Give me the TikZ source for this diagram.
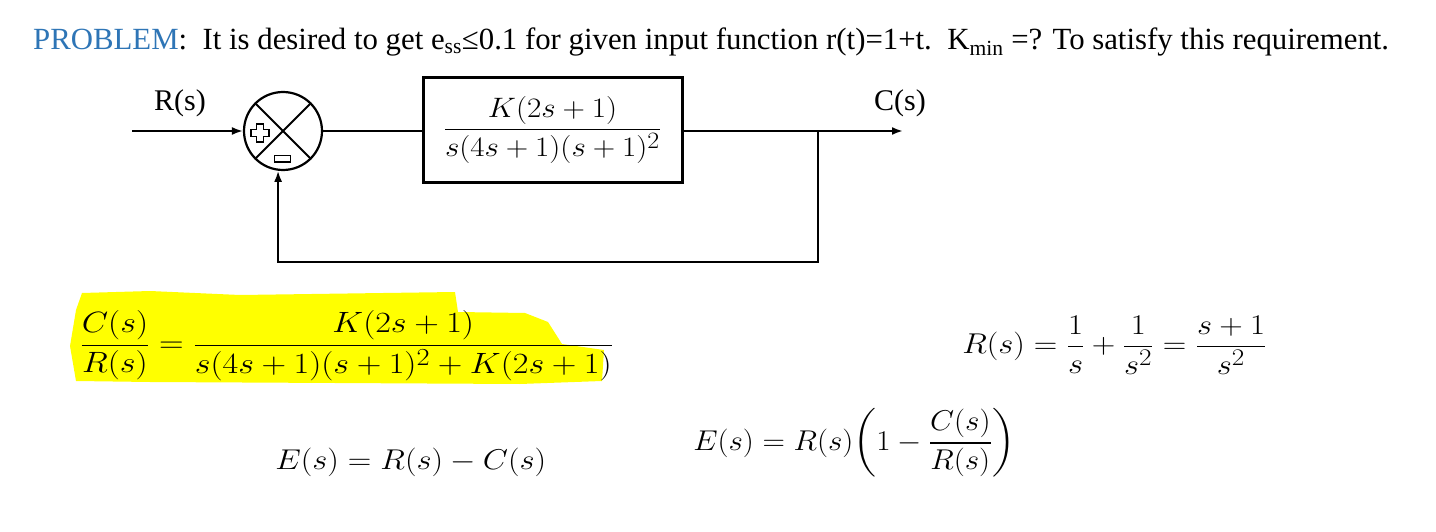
\documentclass[tikz,border=0pt]{standalone}
\usepackage{amsmath}
\usepackage{fontspec}
\setmainfont{Liberation Serif}
\usetikzlibrary{arrows.meta}
\definecolor{probblue}{RGB}{46,117,182}
\definecolor{hilite}{RGB}{255,255,0}
\begin{document}
\begin{tikzpicture}[x=1pt,y=-1pt,
  conn/.style={line width=2pt},
  arr/.style={line width=2pt,-{Latex[length=11pt,width=8pt]}},
  lbl/.style={font=\fontsize{30}{36}\selectfont, inner sep=0pt},
  eqn/.style={font=\fontsize{24.88}{30}\selectfont, inner sep=0pt, transform shape},
  blockbox/.style={draw, line width=3pt, minimum width=259pt, minimum height=105pt, inner sep=0pt}
]
\useasboundingbox (0,0) rectangle (1436,532);
% title
\node[font=\fontsize{30.8}{36}\selectfont, inner sep=0pt, anchor=base west] (title) at (33,50) {\textcolor{probblue}{PROBLEM}: \ It is desired to get e\textsubscript{ss}≤0.1 for given input function r(t)=1+t.\ \ K\textsubscript{min} =? To satisfy this requirement.};
% block diagram
\node[lbl] (rlab) at (180,103) {R(s)};
\node[lbl] (clab) at (900,103) {C(s)};
\coordinate (in) at (132,131);
\node[circle, draw, line width=2.2pt, minimum size=78pt, inner sep=0pt] (sum) at (283,131) {};
\draw[line width=2pt] (sum.45) -- (sum.225) (sum.135) -- (sum.315);
\draw[line width=1.5pt] (256.5,124) -- (263.5,124) -- (263.5,129.5) -- (269,129.5) -- (269,136.5) -- (263.5,136.5) -- (263.5,142) -- (256.5,142) -- (256.5,136.5) -- (251,136.5) -- (251,129.5) -- (256.5,129.5) -- cycle;
\draw[line width=1.5pt] (274.5,155.5) rectangle (290.5,162);
\node[blockbox] (G) at (552.5,130) {};
\node[eqn, xscale=1.25, yscale=1.13] (Gtf) at (G.center) {$\dfrac{K(2s+1)}{s(4s+1)(s+1)^2}$};
\coordinate (out) at (903,131);
\coordinate (br) at (818,131);
\coordinate (fb) at (818,262);
\draw[arr] (in) -- (sum.west);
\draw[conn] (sum.east) -- (G.west |- sum.east);
\draw[arr] (G.east |- out) -- (out);
\draw[arr] (br) -- (fb) -- (sum.263 |- fb) -- (sum.263);
% highlight
\fill[hilite] (82,293) -- (150,291) -- (240,295) -- (455,292) -- (458,312) -- (525,313) -- (548,322) -- (562,344) -- (604,350) -- (602,381) -- (520,384) -- (150,382) -- (76,381) -- (70,346) -- (76,310) -- cycle;
% equations
\node[eqn, xscale=1.37, yscale=1.18, anchor=west] (eq1) at (80,346) {$\dfrac{C(s)}{R(s)}=\dfrac{K(2s+1)}{s(4s+1)(s+1)^2+K(2s+1)}$};
\node[eqn, xscale=1.31, yscale=1.15, anchor=west] (eq2) at (962,345) {$R(s)=\dfrac{1}{s}+\dfrac{1}{s^2}=\dfrac{s+1}{s^2}$};
\node[eqn, xscale=1.31, yscale=1.15, anchor=west] (eq3) at (275,462) {$E(s)=R(s)-C(s)$};
\node[eqn, xscale=1.25, yscale=1.15, anchor=west] (eq4) at (693,443) {$E(s)=R(s)\biggl(1-\dfrac{C(s)}{R(s)}\biggr)$};
\end{tikzpicture}
\end{document}
